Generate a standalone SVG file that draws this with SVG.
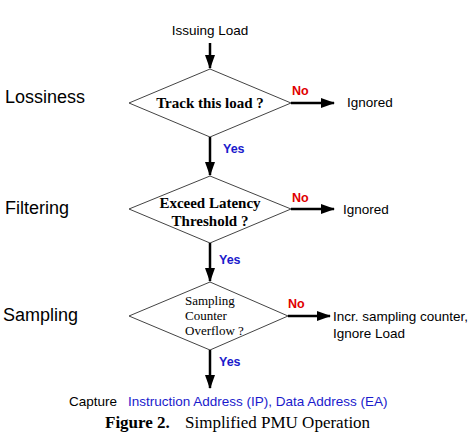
<svg xmlns="http://www.w3.org/2000/svg" width="474" height="435" viewBox="0 0 474 435">
<defs>
<marker id="ah" markerUnits="userSpaceOnUse" markerWidth="14" markerHeight="10" refX="13" refY="5" orient="auto">
<path d="M0,0 L14,5 L0,10 Z" fill="#000"/>
</marker>
<style>
.sans{font-family:"Liberation Sans",Arial,sans-serif;fill:#000}
.serif{font-family:"Liberation Serif","Times New Roman",serif;fill:#000}
.stage{font-size:18px}
.lbl{font-size:13.5px}
.q{font-size:15px;font-weight:bold;text-anchor:middle}
.q2{font-size:13px}
.no{font-size:12.5px;font-weight:bold;fill:#e00000}
.yes{font-size:12.5px;font-weight:bold;fill:#1a1acc}
.dia{fill:#fff;stroke:#444;stroke-width:1}
.arr{stroke:#000;stroke-width:2.5;fill:none;marker-end:url(#ah)}
</style>
</defs>
<rect width="474" height="435" fill="#fff"/>
<g id="labels">
<text class="sans stage" x="5" y="103">Lossiness</text>
<text class="sans stage" x="5" y="214">Filtering</text>
<text class="sans stage" x="3" y="321">Sampling</text>
</g>
<g id="start"><text class="sans lbl" x="210" y="35" text-anchor="middle">Issuing Load</text></g>
<g id="d1">
<polygon class="dia" points="210,69 291,103 210,137 129,103"/>
<text class="serif q" x="210" y="108">Track this load ?</text>
</g>
<g id="d2">
<polygon class="dia" points="210,176 291,209 210,243 129,209"/>
<text class="serif q" x="210" y="208">Exceed Latency</text>
<text class="serif q" x="210" y="226">Threshold ?</text>
</g>
<g id="d3">
<polygon class="dia" points="210,282 288,316 210,350 129,316"/>
<text class="serif q2" x="185" y="305">Sampling</text>
<text class="serif q2" x="185" y="320">Counter</text>
<text class="serif q2" x="185" y="335">Overflow ?</text>
</g>
<g id="ign1"><text class="sans lbl" x="347" y="107">Ignored</text></g>
<g id="ign2"><text class="sans lbl" x="343" y="214">Ignored</text></g>
<g id="ign3">
<text class="sans lbl" x="333" y="321">Incr. sampling counter,</text>
<text class="sans lbl" x="333" y="338">Ignore Load</text>
</g>
<g id="capture">
<text class="sans lbl" x="69" y="406">Capture</text>
<text class="sans lbl" x="128" y="406" style="fill:#1a1acc">Instruction Address (IP), Data Address (EA)</text>
</g>
<g id="connectors">
<line class="arr" x1="210" y1="43" x2="210" y2="68"/>
<line class="arr" x1="291" y1="103" x2="334" y2="103"/>
<line class="arr" x1="210" y1="137" x2="210" y2="175"/>
<line class="arr" x1="291" y1="209" x2="334" y2="209"/>
<line class="arr" x1="210" y1="243" x2="210" y2="281"/>
<line class="arr" x1="288" y1="316" x2="330" y2="316"/>
<line class="arr" x1="210" y1="350" x2="210" y2="388"/>
<text class="sans no" x="292" y="95">No</text>
<text class="sans yes" x="223" y="153">Yes</text>
<text class="sans no" x="292" y="202">No</text>
<text class="sans yes" x="219" y="264">Yes</text>
<text class="sans no" x="288" y="308">No</text>
<text class="sans yes" x="219" y="366">Yes</text>
</g>
<g id="caption">
<text class="serif" x="105" y="428" font-size="17"><tspan font-weight="bold">Figure 2.</tspan><tspan x="185">Simplified PMU Operation</tspan></text>
</g>
</svg>
